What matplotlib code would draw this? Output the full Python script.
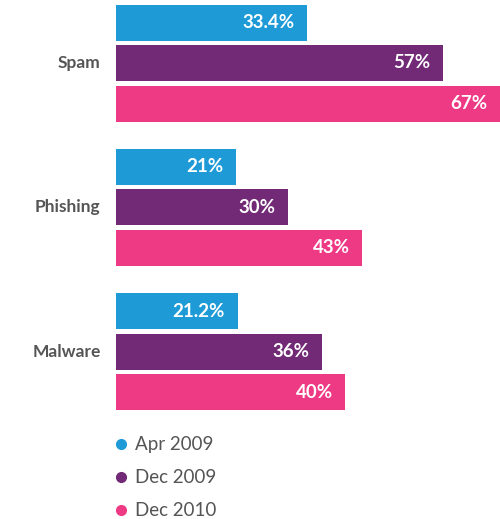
import matplotlib
matplotlib.use('agg')
import matplotlib.pyplot as plt
from matplotlib.lines import Line2D

categories = ['Spam', 'Phishing', 'Malware']
series = ['Apr 2009', 'Dec 2009', 'Dec 2010']
apr_2009 = [33.4, 21, 21.2]
dec_2009 = [57, 30, 36]
dec_2010 = [67, 43, 40]
value_labels = [['33.4%', '21%', '21.2%'],
                ['57%', '30%', '36%'],
                ['67%', '43%', '40%']]
colors = ['#1E9BD7', '#722A77', '#EE3A84']

plt.rcParams['font.family'] = ['Lato', 'DejaVu Sans']

W, H = 500, 519
fig = plt.figure(figsize=(W / 100, H / 100), dpi=100)
ax = fig.add_axes([116 / W, 0, 1 - 116 / W, 1])
ax.set_xlim(0, 67)
ax.set_ylim(H, 0)
ax.axis('off')

group_step = 144.3
bar_step = 40.5
first = 63
bar_h = 36

for j, vals in enumerate([apr_2009, dec_2009, dec_2010]):
    ys = [first + i * group_step + (j - 1) * bar_step for i in range(len(categories))]
    ax.barh(ys, vals, height=bar_h, color=colors[j], clip_on=False)
    for y, v, lab in zip(ys, vals, value_labels[j]):
        ax.annotate(lab, (v, y), xytext=(-9, 0), textcoords='offset points',
                    ha='right', va='center', color='white', fontsize=13.5,
                    fontweight='bold')

for i, cat in enumerate(categories):
    y = first + i * group_step
    ax.annotate(cat, (0, y), xytext=(-11, 0), textcoords='offset points',
                ha='right', va='center', color='#555555', fontsize=12.5,
                fontweight='bold', annotation_clip=False)

handles = [Line2D([], [], marker='o', linestyle='none', markersize=7,
                  color=c) for c in colors]
fig.legend(handles, series, loc='upper left',
           bbox_to_anchor=(104 / W, 1 - 427 / H), frameon=False,
           fontsize=13.5, labelcolor='#555555', handlelength=0.8,
           handletextpad=0.35, labelspacing=0.85, borderpad=0)

fig.savefig('out.png', dpi=100)
